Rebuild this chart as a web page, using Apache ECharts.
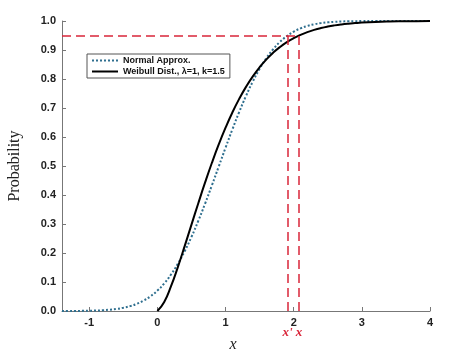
<!DOCTYPE html>
<html><head><meta charset="utf-8">
<script src="https://cdn.jsdelivr.net/npm/echarts@6/dist/echarts.min.js"></script>
<style>html,body{margin:0;padding:0;background:#fff}#c{width:474px;height:355px}</style>
</head><body><div id="c"></div>
<script>
// Normal approximation
const xNormal = [-1.4,-1.3,-1.2,-1.1,-1.0,-0.9,-0.8,-0.7,-0.6,-0.5,-0.4,-0.3,-0.2,-0.1,0.0,0.1,0.2,0.3,0.4,0.5,0.6,0.7,0.8,0.9,1.0,1.1,1.2,1.3,1.4,1.5,1.6,1.7,1.8,1.9,2.0,2.1,2.2,2.3,2.4,2.5,2.6,2.7,2.8,2.9,3.0,3.2,3.4,3.6,3.8,4.0];
const yNormal = [0.0001,0.0002,0.0003,0.0005,0.0010,0.0016,0.0027,0.0045,0.0071,0.0111,0.0168,0.0249,0.0360,0.0509,0.0704,0.0952,0.1259,0.1628,0.2061,0.2556,0.3107,0.3704,0.4335,0.4982,0.5631,0.6262,0.6862,0.7415,0.7914,0.8351,0.8723,0.9033,0.9284,0.9481,0.9633,0.9746,0.9828,0.9887,0.9927,0.9954,0.9972,0.9983,0.9990,0.9994,0.9997,0.9999,1.0,1.0,1.0,1.0];
// Weibull distribution (solid curve)
const xWeibull = [0.0,0.1,0.2,0.3,0.4,0.5,0.6,0.7,0.8,0.9,1.0,1.1,1.2,1.3,1.4,1.5,1.6,1.7,1.8,1.9,2.0,2.1,2.2,2.3,2.4,2.5,2.6,2.7,2.8,2.9,3.0,3.2,3.4,3.6,3.8,4.0];
const yWeibull = [0,0.0311,0.0856,0.1515,0.2236,0.2978,0.3717,0.4433,0.5111,0.5742,0.6321,0.6846,0.7314,0.7729,0.8092,0.8407,0.8679,0.8910,0.9106,0.9271,0.9409,0.9523,0.9617,0.9694,0.9757,0.9808,0.9849,0.9882,0.9908,0.9928,0.9945,0.9967,0.9981,0.9989,0.9994,0.9997];
// Quantile markers
const quantileLevel = 0.95;
const xPrime = 1.911;
const xQuant = 2.078;
const xTicks = [-1,0,1,2,3,4];
const xMin = -1.4, xMax = 4;
const seriesNames = ['Normal Approx.', 'Weibull Dist., \u03bb=1, k=1.5'];

const pairs = (xs, ys) => xs.map((x, i) => [x, ys[i]]);
const red = '#d9263a';
const chart = echarts.init(document.getElementById('c'), null, {renderer: 'canvas'});
chart.setOption({
  animation: false,
  grid: {left: 62, right: 44, top: 21, bottom: 44, outerBoundsMode: 'none', containLabel: false},
  legend: {
    left: 87, top: 54, orient: 'vertical',
    borderColor: '#555', borderWidth: 1, padding: [2, 5, 2, 4],
    itemGap: 2, itemWidth: 26, itemHeight: 8,
    itemStyle: {opacity: 0},
    textStyle: {fontFamily: 'Liberation Sans, Arial', fontWeight: 'bold', fontSize: 9, color: '#111'},
    data: seriesNames
  },
  xAxis: [{
    type: 'value', min: xMin, max: xMax,
    name: 'x', nameLocation: 'middle', nameGap: 26,
    nameTextStyle: {fontFamily: 'Liberation Serif, Times New Roman', fontStyle: 'italic', fontSize: 16, color: '#222', padding: [0, 26, 0, 0]},
    axisLine: {onZero: false, lineStyle: {color: '#777', width: 1}},
    axisTick: {inside: true, length: 4, customValues: xTicks, lineStyle: {color: '#777'}},
    axisLabel: {customValues: xTicks, fontFamily: 'Liberation Sans, Arial', fontWeight: 'bold', fontSize: 11, color: '#222', margin: 6},
    splitLine: {show: false}
  }, {
    type: 'value', min: xMin, max: xMax, position: 'bottom',
    axisLine: {show: false, onZero: false}, axisTick: {show: false}, splitLine: {show: false},
    axisLabel: {
      customValues: [xPrime, xQuant],
      formatter: v => (Math.abs(v - xPrime) < 1e-6 ? "x'" : 'x'),
      fontFamily: 'Liberation Serif, Times New Roman', fontStyle: 'italic', fontWeight: 'bold',
      fontSize: 13, color: red, margin: 15
    }
  }],
  yAxis: {
    type: 'value', min: 0, max: 1, interval: 0.1,
    name: 'Probability', nameLocation: 'middle', nameGap: 39,
    nameTextStyle: {fontFamily: 'Liberation Serif, Times New Roman', fontSize: 16, color: '#222'},
    axisLine: {show: true, onZero: false, lineStyle: {color: '#777', width: 1}},
    axisTick: {show: true, inside: true, length: 4, lineStyle: {color: '#777'}},
    axisLabel: {formatter: v => v.toFixed(1), fontFamily: 'Liberation Sans, Arial', fontWeight: 'bold', fontSize: 11, color: '#222', margin: 6},
    splitLine: {show: false}
  },
  series: [{
    name: seriesNames[0], type: 'line', symbol: 'none', smooth: true,
    data: pairs(xNormal, yNormal),
    lineStyle: {color: '#2f6f8f', width: 2, type: [2, 2]},
    itemStyle: {color: '#2f6f8f'}, z: 3
  }, {
    name: seriesNames[1], type: 'line', symbol: 'none', smooth: true,
    data: pairs(xWeibull, yWeibull),
    lineStyle: {color: '#000', width: 2},
    itemStyle: {color: '#000'}, z: 4,
    markLine: {
      silent: true, symbol: 'none', label: {show: false},
      lineStyle: {color: red, type: [9, 5], width: 1.5},
      data: [
        [{coord: [xMin, quantileLevel]}, {coord: [xQuant, quantileLevel]}],
        [{coord: [xPrime, 0]}, {coord: [xPrime, quantileLevel]}],
        [{coord: [xQuant, 0]}, {coord: [xQuant, quantileLevel]}]
      ]
    }
  }]
});
</script></body></html>
